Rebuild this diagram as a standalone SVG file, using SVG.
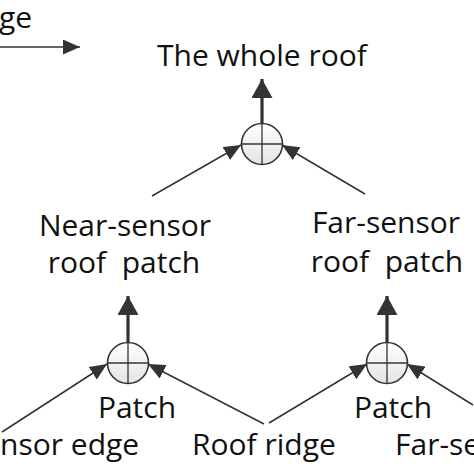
<svg xmlns="http://www.w3.org/2000/svg" width="474" height="474" viewBox="0 0 474 474">
<defs>
<linearGradient id="g" x1="0" y1="0" x2="0" y2="1">
<stop offset="0" stop-color="#ffffff"/>
<stop offset="1" stop-color="#e4e4e4"/>
</linearGradient>
<marker id="a" markerUnits="userSpaceOnUse" markerWidth="17" markerHeight="15" refX="17" refY="7.5" orient="auto">
<path d="M0,0 L17,7.5 L0,15 z" fill="#333"/>
</marker>
<marker id="u" markerUnits="userSpaceOnUse" markerWidth="19" markerHeight="21" refX="19" refY="10.5" orient="auto">
<path d="M0,0 L19,10.5 L0,21 z" fill="#333"/>
</marker>
<style>
text{font-family:"Open Sans","Noto Sans",sans-serif;font-size:30px;fill:#111}
.c{text-anchor:middle}
.thin{stroke:#333;stroke-width:1.5;fill:none;marker-end:url(#a)}
.up{stroke:#333;stroke-width:3.2;fill:none;marker-end:url(#u)}
.sum circle{fill:url(#g);stroke:#333;stroke-width:1.6}
.sum line{stroke:#333;stroke-width:1.3}
</style>
</defs>
<g id="connectors">
<line class="thin" x1="0" y1="47" x2="80" y2="47"/>
<line class="up" x1="262" y1="124" x2="262" y2="79"/>
<line class="thin" x1="152" y1="196" x2="241" y2="145"/>
<line class="thin" x1="365" y1="194" x2="282" y2="145"/>
<line class="up" x1="128" y1="343" x2="128" y2="296"/>
<line class="thin" x1="2" y1="432" x2="107" y2="364"/>
<line class="thin" x1="264" y1="424" x2="148" y2="364"/>
<line class="up" x1="387" y1="343" x2="387" y2="296"/>
<line class="thin" x1="269" y1="423" x2="367" y2="364"/>
<line class="thin" x1="473" y1="405" x2="407" y2="364"/>
</g>
<g id="sum-top" class="sum">
<circle cx="262" cy="144" r="20.5"/>
<line x1="241.5" y1="144" x2="282.5" y2="144"/>
<line x1="262" y1="123.5" x2="262" y2="164.5"/>
</g>
<g id="sum-near" class="sum">
<circle cx="128" cy="363" r="20.5"/>
<line x1="107.5" y1="363" x2="148.5" y2="363"/>
<line x1="128" y1="342.5" x2="128" y2="383.5"/>
</g>
<g id="sum-far" class="sum">
<circle cx="387" cy="363" r="20.5"/>
<line x1="366.5" y1="363" x2="407.5" y2="363"/>
<line x1="387" y1="342.5" x2="387" y2="383.5"/>
</g>
<g id="label-edge-top"><text x="-1" y="28">ge</text></g>
<g id="node-whole-roof"><text class="c" x="262" y="66">The whole roof</text></g>
<g id="node-near-patch"><text class="c" x="125" y="236">Near-sensor</text><text class="c" x="124" y="273" xml:space="preserve">roof  patch</text></g>
<g id="node-far-patch"><text class="c" x="386" y="233">Far-sensor</text><text class="c" x="387" y="272" xml:space="preserve">roof  patch</text></g>
<g id="label-patch-left"><text class="c" x="137" y="418">Patch</text></g>
<g id="label-patch-right"><text class="c" x="393" y="418">Patch</text></g>
<g id="node-near-edge"><text x="0" y="455">nsor edge</text></g>
<g id="node-ridge"><text x="192" y="455">Roof ridge</text></g>
<g id="node-far-edge"><text x="395" y="455">Far-se</text></g>
</svg>
